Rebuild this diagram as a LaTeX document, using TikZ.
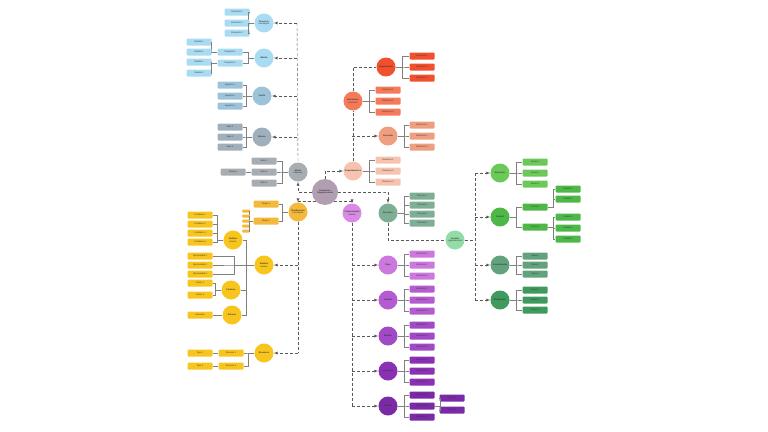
\documentclass[tikz,border=0pt]{standalone}
\usepackage{fontspec}
\setmainfont{Liberation Sans}
\usetikzlibrary{calc}
\begin{document}
\begin{tikzpicture}[x=1pt,y=-1pt,
  every node/.style={font=\fontsize{2.2}{2.6}\selectfont,align=center,text=black!80},
  circ/.style={circle,minimum size=19pt,inner sep=0pt,fill=#1},
  bx/.style={rounded corners=1pt,minimum width=25pt,minimum height=7pt,inner sep=0pt,fill=#1},
  sb/.style={rounded corners=1pt,minimum width=8pt,minimum height=3pt,inner sep=0pt,fill=#1},
  tr/.style={densely dashed,gray!70!black,line width=0.4pt},
  ar/.style={tr,-latex},
  br/.style={gray,line width=0.4pt}]
\useasboundingbox (0,0) rectangle (768,431);
\definecolor{c0}{HTML}{B29EB1}
\definecolor{b1}{HTML}{A9DBF2}\definecolor{b2}{HTML}{9CC3DA}\definecolor{b3}{HTML}{9FAFBC}
\definecolor{g0}{HTML}{A7AEB3}\definecolor{y1}{HTML}{F4B93A}\definecolor{y2}{HTML}{F7C51E}
\definecolor{r1}{HTML}{F0502E}\definecolor{r2}{HTML}{F47A5A}\definecolor{r3}{HTML}{EE9F80}\definecolor{r4}{HTML}{F6C4AE}
\definecolor{n1}{HTML}{7EAE93}\definecolor{n2}{HTML}{93DCA6}\definecolor{n3}{HTML}{6BC95A}\definecolor{n4}{HTML}{4DB847}\definecolor{n5}{HTML}{62A27C}\definecolor{n6}{HTML}{3F9B5D}
\definecolor{p1}{HTML}{D88BE2}\definecolor{p2}{HTML}{CC78DE}\definecolor{p3}{HTML}{B45BD1}\definecolor{p4}{HTML}{A04AC6}\definecolor{p5}{HTML}{8A30B4}\definecolor{p6}{HTML}{7B2AA6}
\coordinate (ta) at (297,23);
\coordinate (tp) at (352,0);
\coordinate (tg) at (475,0);
% center
\node[circ=c0,minimum size=26pt] (c) at (325,192) {\textbf{Estructura}\\\textbf{Organizacional}};
% ---- blue branch
\node[circ=b1] (a1) at (264,23) {\textbf{Dirección}\\estratégica};
\node[circ=b1] (a2) at (264,58) {\textbf{Misión}};
\node[circ=b2] (a3) at (262,96) {\textbf{Visión}};
\node[circ=b3] (a4) at (262,137) {\textbf{Valores}};
\node[circ=g0] (a5) at (298,172) {\textbf{Metas}\\objetivos};
\draw[tr] (ta) -- (a5.north);
\foreach \n in {a1,a2,a3,a4}{\draw[ar] (\n.east -| ta) -- (\n.east);}
\draw[ar] (c.west) -| (a5.south);
\foreach \y [count=\i] in {12,23,33}{\node[bx=b1] (a1b\i) at (237,\y) {Elemento \i}; \draw[br] (a1.west) -- ++(-6,0) |- (a1b\i.east);}
\foreach \y [count=\i] in {52,63}{\node[bx=b1] (a2b\i) at (230,\y) {Propósito \i}; \draw[br] (a2.west) -- ++(-6,0) |- (a2b\i.east);}
\foreach \y [count=\i] in {42,52}{\node[bx=b1] (a2c\i) at (199,\y) {Detalle \i}; \draw[br] (a2b1.west) -- ++(-6,0) |- (a2c\i.east);}
\foreach \y [count=\i] in {62,73}{\node[bx=b1] (a2d\i) at (199,\y) {Detalle \i}; \draw[br] (a2b2.west) -- ++(-6,0) |- (a2d\i.east);}
\foreach \y [count=\i] in {85,96,106}{\node[bx=b2] (a3b\i) at (230,\y) {Aspecto \i}; \draw[br] (a3.west) -- ++(-6,0) |- (a3b\i.east);}
\foreach \y [count=\i] in {127,137,147}{\node[bx=b3] (a4b\i) at (230,\y) {Valor \i}; \draw[br] (a4.west) -- ++(-6,0) |- (a4b\i.east);}
\foreach \y [count=\i] in {161,172,183}{\node[bx=g0] (a5b\i) at (264,\y) {Meta \i}; \draw[br] (a5.west) -- ++(-6,0) |- (a5b\i.east);}
\node[bx=g0] (a5c) at (233,172) {Objetivo}; \draw[br] (a5b2.west) -- (a5c.east);
% ---- yellow branch
\node[circ=y1] (y0) at (298,212) {\textbf{Planificación}\\estratégica};
\node[circ=y2] (y1) at (233,240) {\textbf{Análisis}\\interno};
\node[circ=y2] (y2) at (264,265) {\textbf{Análisis}\\externo};
\node[circ=y2] (y3) at (231,290) {\textbf{Factores}};
\node[circ=y2] (y4) at (232,315) {\textbf{Entorno}};
\node[circ=y2] (y5) at (264,353) {\textbf{Recursos}};
\draw[ar] (c.south west) -- ++(-8,0) -| (y0.north);
\draw[tr] (y0.south) -- (298,353);
\draw[ar] (298,265) -- (y2.east);\draw[ar] (298,353) -- (y5.east);
\draw[br] (y2.west) -- ++(-8,0) |- (y1.east); \draw[br] (y2.west) -- ++(-8,0) |- (y3.east); \draw[br] (y2.west) -- ++(-8,0) |- (y4.east);
\foreach \y [count=\i] in {204,221}{\node[bx=y1] (y0b\i) at (266,\y) {Etapa \i}; \draw[br] (y0.west) -- ++(-6,0) |- (y0b\i.east);}
\foreach \y [count=\i] in {211,216,221,226,231}{\node[sb=y1] (y0s\i) at (246,\y) {}; \draw[br] (y0b2.west) -- ++(-4,0) |- (y0s\i.east);}
\foreach \y [count=\i] in {215,224,233,242}{\node[bx=y2] (y1b\i) at (200,\y) {Fortaleza \i}; \draw[br] (y1.west) -- ++(-6,0) |- (y1b\i.east);}
\foreach \y [count=\i] in {256,265,274}{\node[bx=y2] (y2b\i) at (200,\y) {Oportunidad \i}; \draw[br] (y2.west) -- ++(-20,0) |- (y2b\i.east);}
\foreach \y [count=\i] in {283,295}{\node[bx=y2] (y3b\i) at (200,\y) {Factor \i}; \draw[br] (y3.west) -- ++(-6,0) |- (y3b\i.east);}
\node[bx=y2] (y4b1) at (200,315) {Amenaza}; \draw[br] (y4.west) -- (y4b1.east);
\foreach \y [count=\i] in {353,366}{\node[bx=y2] (y5b\i) at (231,\y) {Recurso \i}; \draw[br] (y5.west) -- ++(-6,0) |- (y5b\i.east);
  \node[bx=y2] (y5c\i) at (200,\y) {Tipo \i}; \draw[br] (y5b\i.west) -- (y5c\i.east);}
% ---- red branch
\node[circ=r1] (r1) at (386,67) {\textbf{Organización}};
\node[circ=r2] (r2) at (353,101) {\textbf{Estructura}\\funcional};
\node[circ=r3] (r3) at (388,136) {\textbf{Jerarquía}};
\node[circ=r4] (r4) at (353,171) {\textbf{Departamentos}};
\draw[ar] (c.north) |- (r4.west);
\draw[tr] (r4.north) -- (r2.south);
\draw[tr] (r2.north) |- (r1.west);
\draw[ar] (r3.west -| tp) -- (r3.west);
\foreach \n/\x/\yy/\cl in {r1/422/67/r1,r2/388/101/r2,r3/422/136/r3,r4/388/171/r4}{
 \foreach \d [count=\i] in {-11,0,11}{\node[bx=\cl] (\n b\i) at (\x,\yy+\d) {Elemento \i}; \draw[br] (\n.east) -- ++(6,0) |- (\n b\i.west);}}
% ---- green branch
\node[circ=n1] (g1) at (388,213) {\textbf{Procesos}};
\node[circ=n2] (g2) at (455,240) {\textbf{Gestión}\\organizacional};
\node[circ=n3] (g3) at (500,173) {\textbf{Dirección}};
\node[circ=n4] (g4) at (500,217) {\textbf{Control}};
\node[circ=n5] (g5) at (500,265) {\textbf{Coordinación}};
\node[circ=n6] (g6) at (500,300) {\textbf{Evaluación}};
\draw[ar] (c.east) -- ++(45,0) -| (g1.north);
\draw[tr] (g1.south) |- (g2.west);
\draw[tr] (g2.east) -- (g2.east -| tg);
\draw[tr] (g3.west -| tg) -- (g6.west -| tg);
\foreach \n in {g3,g4,g5,g6}{\draw[ar] (\n.west -| tg) -- (\n.west);}
\foreach \y [count=\i] in {196,205,214,223}{\node[bx=n1] (g1b\i) at (422,\y) {Proceso \i}; \draw[br] (g1.east) -- ++(6,0) |- (g1b\i.west);}
\foreach \y [count=\i] in {162,173,184}{\node[bx=n3] (g3b\i) at (535,\y) {Acción \i}; \draw[br] (g3.east) -- ++(6,0) |- (g3b\i.west);}
\foreach \y [count=\i] in {207,227}{\node[bx=n4] (g4b\i) at (535,\y) {Control \i}; \draw[br] (g4.east) -- ++(6,0) |- (g4b\i.west);}
\foreach \y [count=\i] in {189,199}{\node[bx=n4] (g4c\i) at (568,\y) {Detalle \i}; \draw[br] (g4b1.east) -- ++(5,0) |- (g4c\i.west);}
\foreach \y [count=\i] in {217,228,239}{\node[bx=n4] (g4d\i) at (568,\y) {Detalle \i}; \draw[br] (g4b2.east) -- ++(5,0) |- (g4d\i.west);}
\foreach \y [count=\i] in {256,265,274}{\node[bx=n5] (g5b\i) at (535,\y) {Tarea \i}; \draw[br] (g5.east) -- ++(6,0) |- (g5b\i.west);}
\foreach \y [count=\i] in {290,300,310}{\node[bx=n6] (g6b\i) at (535,\y) {Criterio \i}; \draw[br] (g6.east) -- ++(6,0) |- (g6b\i.west);}
% ---- purple branch
\node[circ=p1] (p1) at (352,213) {\textbf{Comunicación}\\interna};
\node[circ=p2] (p2) at (388,265) {\textbf{Flujo}};
\node[circ=p3] (p3) at (388,300) {\textbf{Canales}};
\node[circ=p4] (p4) at (388,336) {\textbf{Medios}};
\node[circ=p5] (p5) at (388,371) {\textbf{Liderazgo}};
\node[circ=p6] (p6) at (388,406) {\textbf{Cultura}};
\draw[ar] (c.south east) -- ++(6,0) -| (p1.north);
\draw[tr] (p1.south) -- (p6.west -| tp);
\foreach \n in {p2,p3,p4,p5,p6}{\draw[ar] (\n.west -| tp) -- (\n.west);}
\foreach \n/\cl in {p2/p2,p3/p3,p4/p4,p5/p5,p6/p6}{
 \foreach \d [count=\i] in {-11,0,11}{\node[bx=\cl] (\n b\i) at ($(\n)+(34,\d)$) {Elemento \i}; \draw[br] (\n.east) -- ++(6,0) |- (\n b\i.west);}}
\foreach \y [count=\i] in {398,410}{\node[bx=p6] (p6c\i) at (452,\y) {Detalle \i}; \draw[br] (p6b2.east) -- ++(5,0) |- (p6c\i.west);}
\end{tikzpicture}
\end{document}
